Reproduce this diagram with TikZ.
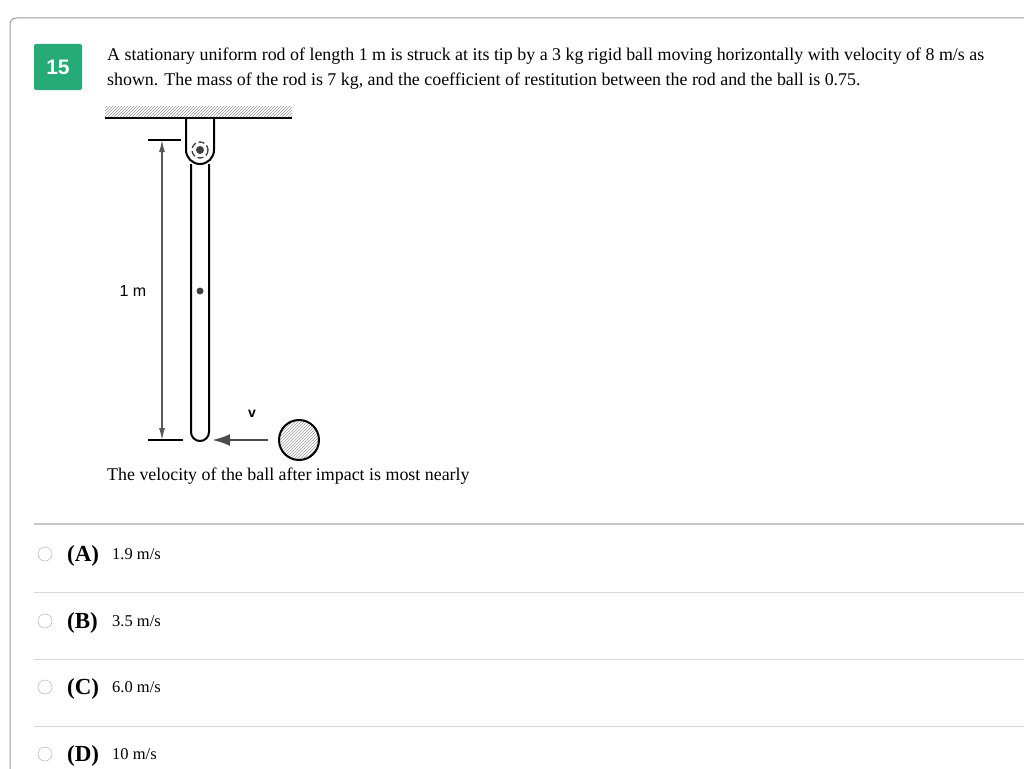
\documentclass[tikz,border=0pt]{standalone}
\usepackage{fontspec}
\setmainfont{Liberation Serif}
\setsansfont{Liberation Sans}
\usetikzlibrary{patterns,arrows.meta}
\definecolor{badge}{RGB}{38,170,120}
\definecolor{rule}{RGB}{200,200,200}
\tikzset{
  qtext/.style={anchor=west,font=\fontsize{17.9}{20}\selectfont,inner sep=0pt},
  optcircle/.style={draw=gray!70,circle,minimum size=14pt,inner sep=0pt},
  optlabel/.style={anchor=west,font=\fontsize{23}{26}\selectfont\bfseries,inner sep=0pt},
  optvalue/.style={anchor=west,font=\fontsize{16.5}{19}\selectfont,inner sep=0pt},
  hatch/.style={pattern=north east lines,pattern color=gray!80},
}
\begin{document}
\begin{tikzpicture}[x=1pt,y=-1pt,line join=round]
\useasboundingbox (0,0) rectangle (1024,768);
% card
\draw[gray!80,line width=1pt,rounded corners=6pt] (10,780) -- (10,18) -- (1040,18);
\node[fill=badge,rounded corners=2pt,minimum width=48pt,minimum height=46pt,text=white,
  font=\sffamily\bfseries\fontsize{21}{24}\selectfont] (badge) at (58,67) {15};
\node[qtext] (line1) at (107,56) {A stationary uniform rod of length 1 m is struck at its tip by a 3 kg rigid ball moving horizontally with velocity of 8 m/s as};
\node[qtext] (line2) at (107,81) {shown. The mass of the rod is 7 kg, and the coefficient of restitution between the rod and the ball is 0.75.};
% ceiling
\fill[hatch] (105,106) rectangle (292,118);
\draw[line width=2pt] (105,118) -- (292,118);
% bracket
\draw[line width=2pt] (186,118) -- (186,150) arc[start angle=180,end angle=0,radius=14] -- (214,118);
\coordinate (pivot) at (200,150);
\fill[black!75] (pivot) circle (4);
\draw[black!75,line width=1.3pt,dash pattern=on 6pt off 3pt] (pivot) circle (8);
% rod
\draw[line width=2pt] (191,164) -- (191,432) arc[start angle=180,end angle=0,radius=9] -- (209,164);
\fill[black!75] (200,291) circle (3.5);
% dimension
\coordinate (dtop) at (162,140);
\coordinate (dbot) at (162,440);
\draw[line width=1.3pt] (148,140) -- (181,140);
\draw[line width=1.3pt] (148,440) -- (183,440);
\draw[line width=1.3pt,gray!70!black,{Latex[length=12pt,width=6pt]}-{Latex[length=12pt,width=6pt]}] (dtop) -- (dbot);
\node[font=\sffamily\fontsize{16}{18}\selectfont,fill=white,inner sep=1pt] (len) at (133,291) {1 m};
% ball
\node[circle,draw,line width=2pt,hatch,minimum size=40pt,inner sep=0pt] (ball) at (299,440) {};
\coordinate (tip) at (212,440);
\draw[line width=2.5pt,gray!60!black,-{Latex[length=18pt,width=12pt]}] (268,440) -- (tip);
\node[font=\sffamily\bfseries\fontsize{14}{16}\selectfont] (v) at (252,414) {v};
\node[qtext] (ask) at (107,476) {The velocity of the ball after impact is most nearly};
% options
\draw[rule,line width=2pt] (34,524) -- (1024,524);
\foreach \y in {592,659,726} \draw[rule!70] (34,\y) -- (1024,\y);
\foreach \y/\l/\v in {554/A/1.9,621/B/3.5,687/C/6.0,754/D/10} {
  \node[optcircle] (c\l) at (45,\y) {};
  \node[optlabel] (l\l) at (67,\y+2) {(\l)};
  \node[optvalue] (v\l) at (112,\y) {\v\ m/s};
}
\end{tikzpicture}
\end{document}
